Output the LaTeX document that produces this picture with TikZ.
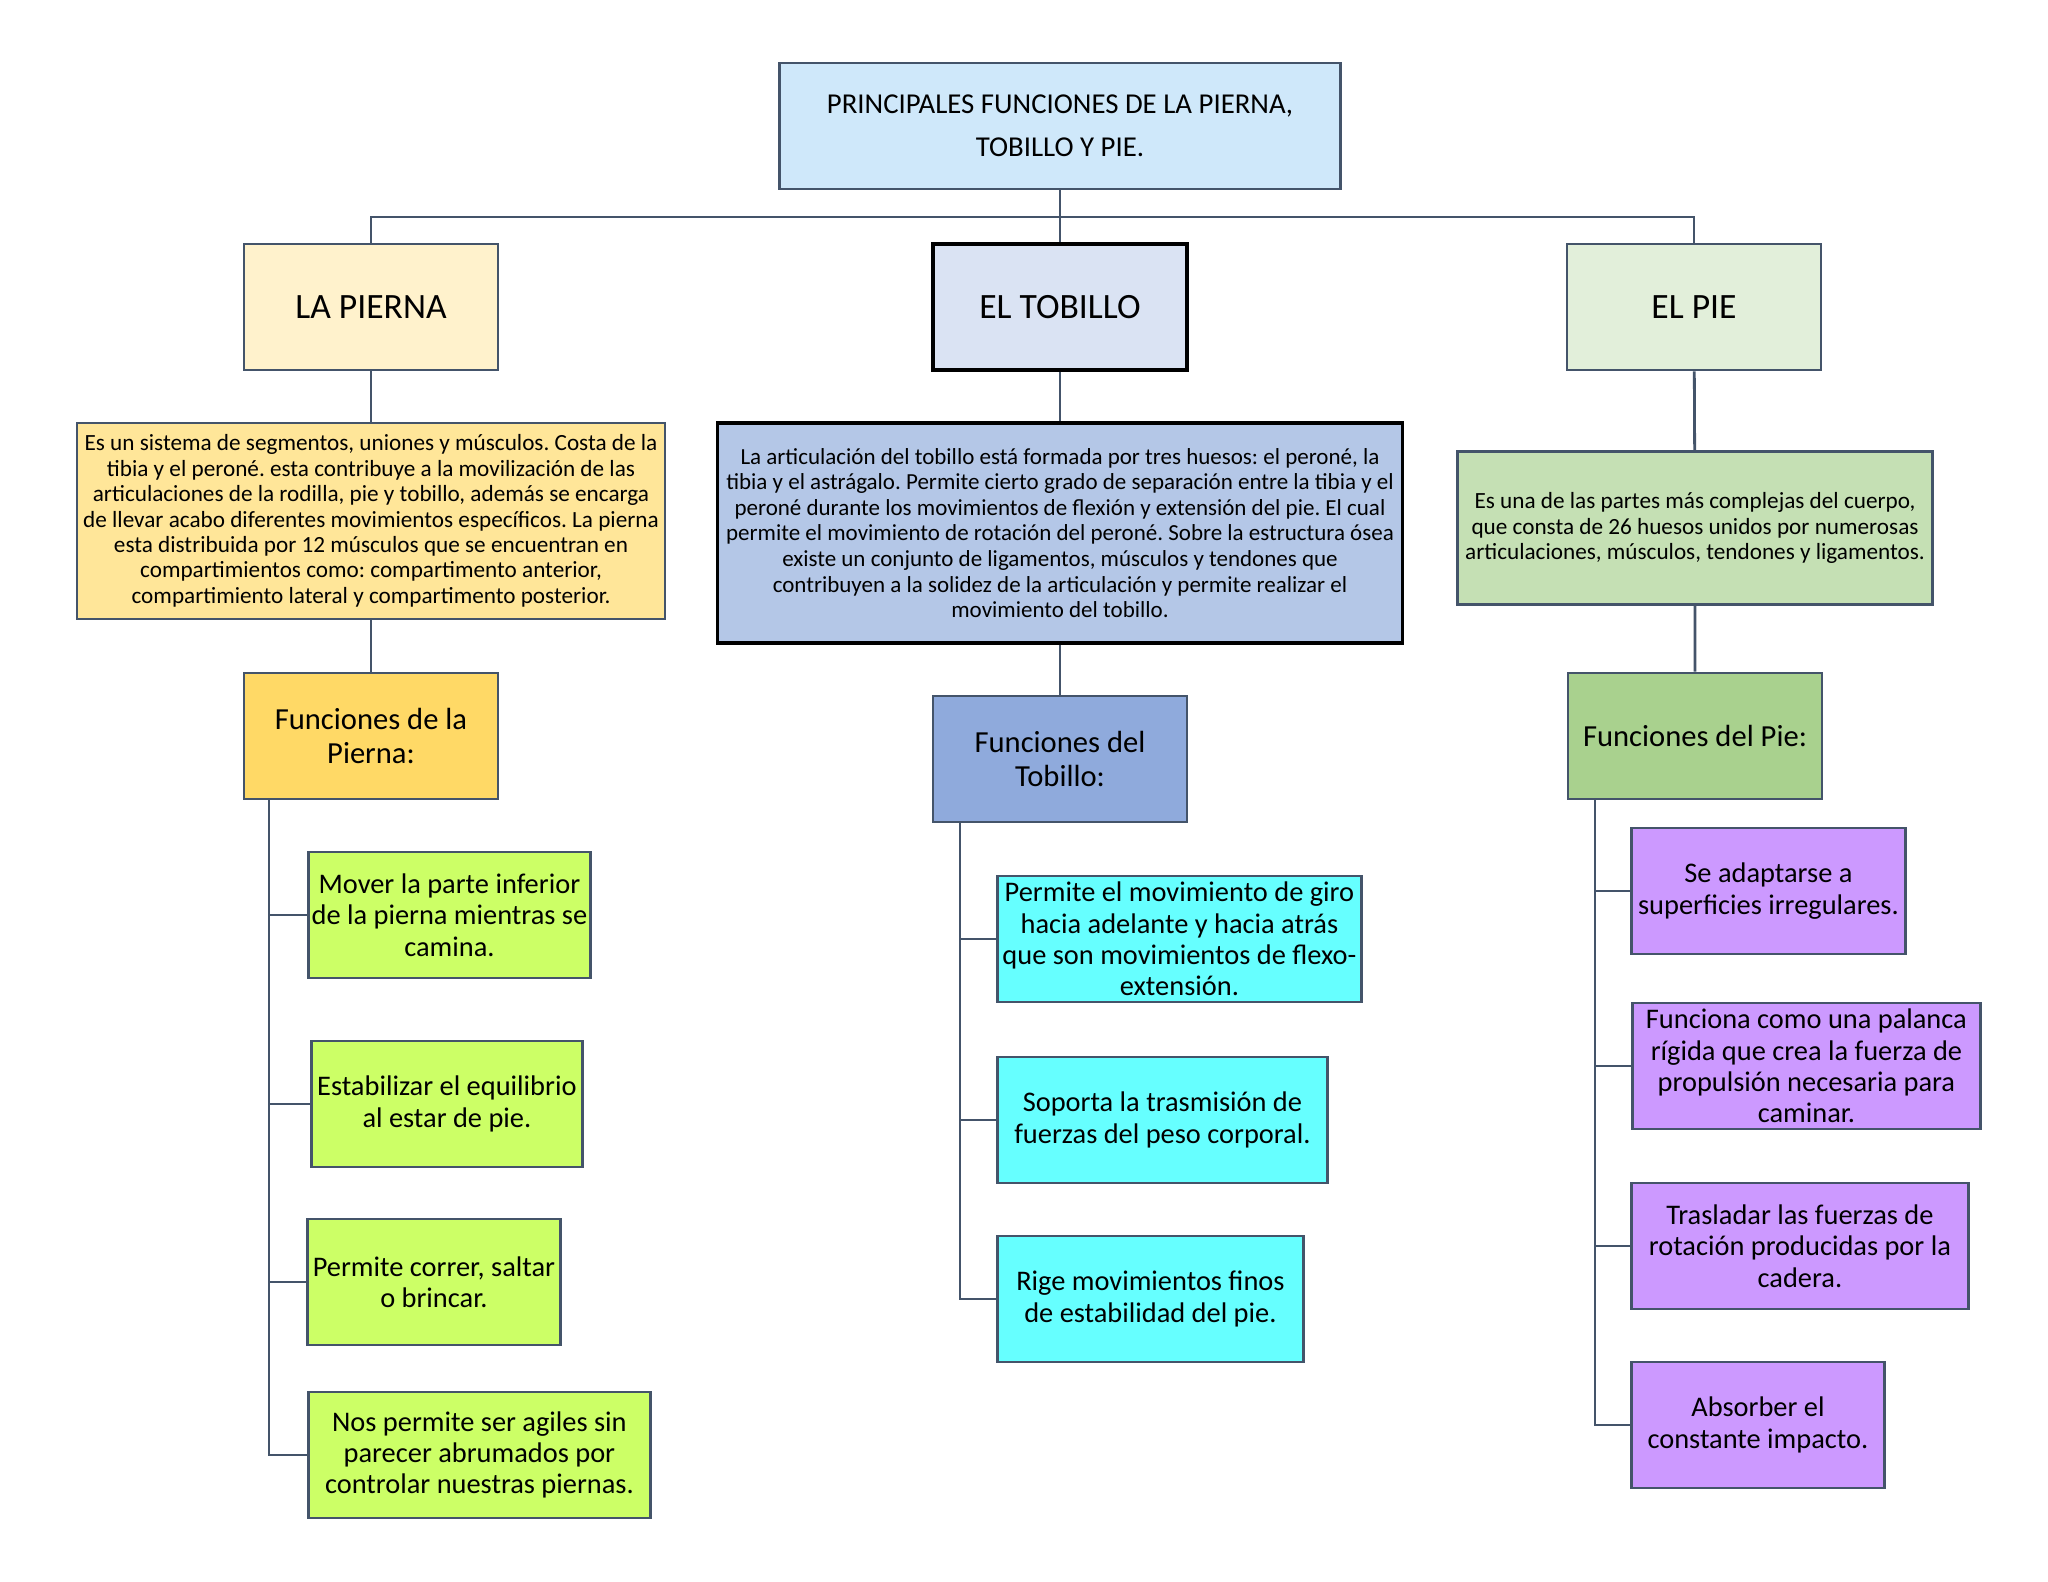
\documentclass[tikz,border=0pt]{standalone}
\usepackage{fontspec}
\setmainfont{Carlito}
\frenchspacing
\definecolor{linea}{HTML}{44546A}
\definecolor{celeste}{HTML}{CFE8FA}
\definecolor{crema}{HTML}{FFF2CC}
\definecolor{lila}{HTML}{DAE3F3}
\definecolor{menta}{HTML}{E2EFDA}
\definecolor{oro}{HTML}{FFE699}
\definecolor{azulgris}{HTML}{B4C7E7}
\definecolor{verdegris}{HTML}{C5E0B4}
\definecolor{mostaza}{HTML}{FFD966}
\definecolor{azul}{HTML}{8FAADC}
\definecolor{verde}{HTML}{A9D18E}
\definecolor{lima}{HTML}{CCFF66}
\definecolor{cian}{HTML}{66FFFF}
\definecolor{violeta}{HTML}{CC99FF}

\begin{document}
\begin{tikzpicture}[x=0.5pt,y=-0.5pt,
	caja/.style={ draw=linea, line width=1.4pt, align=center, inner sep=1pt, text=black },
	cajan/.style={ caja, draw=black, line width=1.8pt },
	titulo/.style={ caja, fill=celeste, minimum width=280.5pt, minimum height=63pt, font=\fontsize{14.4}{21.5}\selectfont },
	tema/.style={ caja, minimum width=127pt, minimum height=63pt, font=\fontsize{17.8}{20}\selectfont },
	desc/.style={ caja, font=\fontsize{11.6}{12.7}\selectfont },
	func/.style={ caja, minimum width=127pt, minimum height=63pt, font=\fontsize{15.3}{17.4}\selectfont },
	hoja/.style={ caja, anchor=west, minimum height=63pt, font=\fontsize{14.2}{15.7}\selectfont },
	rama/.style={ draw=linea, line width=1.4pt }
]

\useasboundingbox[fill=white] (0,0) rectangle (2048,1582);

\node at (1060,126) (titulo) [titulo] {PRINCIPALES FUNCIONES DE LA PIERNA,\\TOBILLO Y PIE.};
\coordinate (bus) at (1060,217);

\node at (371,307) (pierna) [tema,fill=crema] {LA PIERNA};
\node at (1060,307) (tobillo) [tema,cajan,fill=lila] {EL TOBILLO};
\node at (1694,307) (pie) [tema,fill=menta] {EL PIE};

\node at (371,521) (dpierna) [desc,fill=oro,minimum width=294pt,minimum height=98pt]
	{Es un sistema de segmentos, uniones y músculos. Costa de la\\
	tibia y el peroné. esta contribuye a la movilización de las\\
	articulaciones de la rodilla, pie y tobillo, además se encarga\\
	de llevar acabo diferentes movimientos específicos. La pierna\\
	esta distribuida por 12 músculos que se encuentran en\\
	compartimientos como: compartimento anterior,\\
	compartimiento lateral y compartimento posterior.};
\node at (1060,533) (dtobillo) [desc,cajan,fill=azulgris,minimum width=342.5pt,minimum height=110pt,font=\fontsize{11.5}{12.8}\selectfont]
	{La articulación del tobillo está formada por tres huesos: el peroné, la\\
	tibia y el astrágalo. Permite cierto grado de separación entre la tibia y el\\
	peroné durante los movimientos de flexión y extensión del pie. El cual\\
	permite el movimiento de rotación del peroné. Sobre la estructura ósea\\
	existe un conjunto de ligamentos, músculos y tendones que\\
	contribuyen a la solidez de la articulación y permite realizar el\\
	movimiento del tobillo.};
\node at (1695,528) (dpie) [desc,fill=verdegris,minimum width=237.5pt,minimum height=76.5pt]
	{Es una de las partes más complejas del cuerpo,\\
	que consta de 26 huesos unidos por numerosas\\
	articulaciones, músculos, tendones y ligamentos.};

\node at (371,736) (fpierna) [func,fill=mostaza] {Funciones de la\\Pierna:};
\node at (1060,759) (ftobillo) [func,fill=azul] {Funciones del\\Tobillo:};
\node at (1695,736) (fpie) [func,fill=verde] {Funciones del Pie:};

% hojas de la pierna
\node at (307,915) (p1) [hoja,fill=lima,minimum width=141pt] {Mover la parte inferior\\de la pierna mientras se\\camina.};
\node at (310,1104) (p2) [hoja,fill=lima,minimum width=135.5pt] {Estabilizar el equilibrio\\al estar de pie.};
\node at (306,1282) (p3) [hoja,fill=lima,minimum width=126.5pt] {Permite correr, saltar\\o brincar.};
\node at (307,1455) (p4) [hoja,fill=lima,minimum width=171pt] {Nos permite ser agiles sin\\parecer abrumados por\\controlar nuestras piernas.};

% hojas del tobillo
\node at (996,939) (t1) [hoja,fill=cian,minimum width=182pt] {Permite el movimiento de giro\\hacia adelante y hacia atrás\\que son movimientos de flexo-\\extensión.};
\node at (996,1120) (t2) [hoja,fill=cian,minimum width=165pt] {Soporta la trasmisión de\\fuerzas del peso corporal.};
\node at (996,1299) (t3) [hoja,fill=cian,minimum width=153pt] {Rige movimientos finos\\de estabilidad del pie.};

% hojas del pie
\node at (1630,891) (f1) [hoja,fill=violeta,minimum width=137pt] {Se adaptarse a\\superficies irregulares.};
\node at (1631,1066) (f2) [hoja,fill=violeta,minimum width=174pt] {Funciona como una palanca\\rígida que crea la fuerza de\\propulsión necesaria para\\caminar.};
\node at (1630,1246) (f3) [hoja,fill=violeta,minimum width=168.5pt] {Trasladar las fuerzas de\\rotación producidas por la\\cadera.};
\node at (1630,1425) (f4) [hoja,fill=violeta,minimum width=126.5pt] {Absorber el\\constante impacto.};

\draw[rama] (titulo) -- (bus);
\draw[rama] (pierna.north) |- (bus) -| (pie.north);
\draw[rama] (bus) -- (tobillo);

\draw[rama] (pierna) -- (dpierna) -- (fpierna);
\draw[rama] (tobillo) -- (dtobillo) -- (ftobillo);
\draw[rama] (pie) -- (dpie) -- (fpie);

\coordinate (ejep) at (269,0);
\coordinate (ejet) at (960,0);
\coordinate (ejef) at (1595,0);
\draw[rama] (ejep |- fpierna.south) |- (p4.west);
\foreach \h in {p1,p2,p3} \draw[rama] (ejep |- \h.west) -- (\h.west);
\draw[rama] (ejet |- ftobillo.south) |- (t3.west);
\foreach \h in {t1,t2} \draw[rama] (ejet |- \h.west) -- (\h.west);
\draw[rama] (ejef |- fpie.south) |- (f4.west);
\foreach \h in {f1,f2,f3} \draw[rama] (ejef |- \h.west) -- (\h.west);

\end{tikzpicture}
\end{document}
